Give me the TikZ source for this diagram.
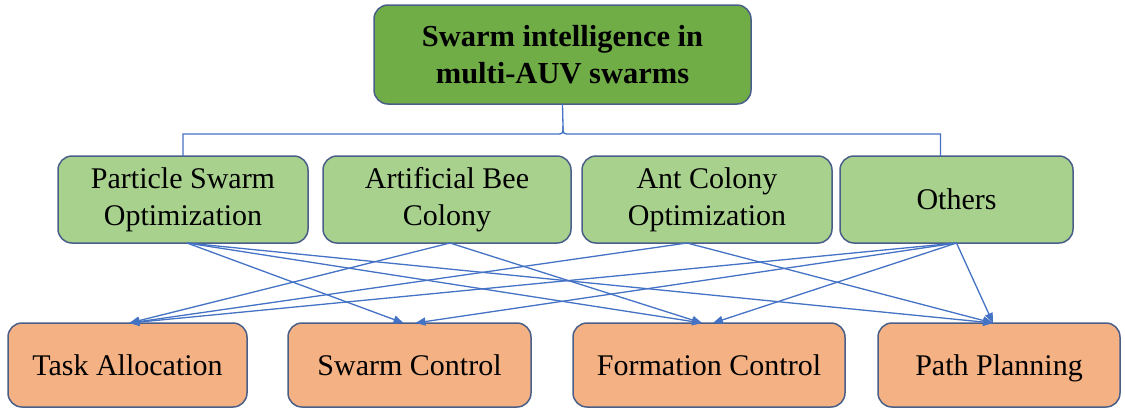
\documentclass[tikz,border=0pt]{standalone}
\usepackage{fontspec}
\setmainfont{Liberation Serif}
\usetikzlibrary{arrows.meta,positioning}
\definecolor{rootfill}{HTML}{70AD47}
\definecolor{algofill}{HTML}{A9D18E}
\definecolor{taskfill}{HTML}{F4B183}
\definecolor{boxline}{HTML}{4A5F88}
\definecolor{linkblue}{HTML}{4472C4}

\begin{document}
\begin{tikzpicture}[x=1pt, y=-1pt,
  box/.style={draw=boxline, line width=1.5pt, rounded corners=14pt, align=center, inner sep=0pt, outer sep=0pt, font=\fontsize{30}{37}\selectfont},
  root/.style={box, fill=rootfill, minimum width=377pt, minimum height=99pt, font=\fontsize{30.5}{37}\selectfont\bfseries},
  algo/.style={box, fill=algofill, minimum height=87pt},
  task/.style={box, fill=taskfill, minimum height=84pt, text height=20pt, text depth=0pt},
  link/.style={draw=linkblue, line width=1.3pt},
  arr/.style={link, -{Triangle[length=10pt, width=8pt]}}
]
  \useasboundingbox (0,0) rectangle (1125,413);

  \node[root] (swarm) at (562.5,54.5) {Swarm intelligence in\\multi-AUV swarms};

  \node[algo, minimum width=250pt] (pso) at (183,199.5) {Particle Swarm\\Optimization};
  \node[algo, minimum width=248pt, right=15pt of pso] (abc) {Artificial Bee\\Colony};
  \node[algo, minimum width=250pt, right=11pt of abc] (aco) {Ant Colony\\Optimization};
  \node[algo, minimum width=233pt, right=8pt of aco] (others) {Others};

  \node[task, minimum width=239pt] (alloc) at (127.5,365) {Task Allocation};
  \node[task, minimum width=243pt, right=41pt of alloc] (control) {Swarm Control};
  \node[task, minimum width=272pt, right=42pt of control] (formation) {Formation Control};
  \node[task, minimum width=242pt, right=33pt of formation] (path) {Path Planning};

  % bracket from the root to the algorithms
  \coordinate (tip) at (563,126);
  \coordinate (bl) at (556,134);
  \coordinate (br) at (570,134);
  \draw[link] (swarm.south) -- (tip);
  \draw[link] (pso.north) |- (bl) .. controls (tip |- bl) .. (tip);
  \draw[link] ([xshift=-16pt]others.north) |- (br) .. controls (tip |- br) .. (tip);

  % algorithms to applications
  \draw[arr] ([xshift=4pt]pso.south) -- ([xshift=-6pt]control.north);
  \draw[arr] ([xshift=4pt]pso.south) -- ([xshift=-7pt]formation.north);
  \draw[arr] ([xshift=4pt]pso.south) -- ([xshift=-6pt]path.north);
  \draw[arr] ([xshift=3pt]abc.south) -- ([xshift=2pt]alloc.north);
  \draw[arr] ([xshift=3pt]abc.south) -- ([xshift=-7pt]formation.north);
  \draw[arr] ([xshift=-20pt]aco.south) -- ([xshift=2pt]alloc.north);
  \draw[arr] ([xshift=-20pt]aco.south) -- ([xshift=-6pt]path.north);
  \draw[arr] (others.south) -- ([xshift=2pt]alloc.north);
  \draw[arr] (others.south) -- ([xshift=6pt]control.north);
  \draw[arr] (others.south) -- ([xshift=4pt]formation.north);
  \draw[arr] (others.south) -- ([xshift=-6pt]path.north);
\end{tikzpicture}
\end{document}
